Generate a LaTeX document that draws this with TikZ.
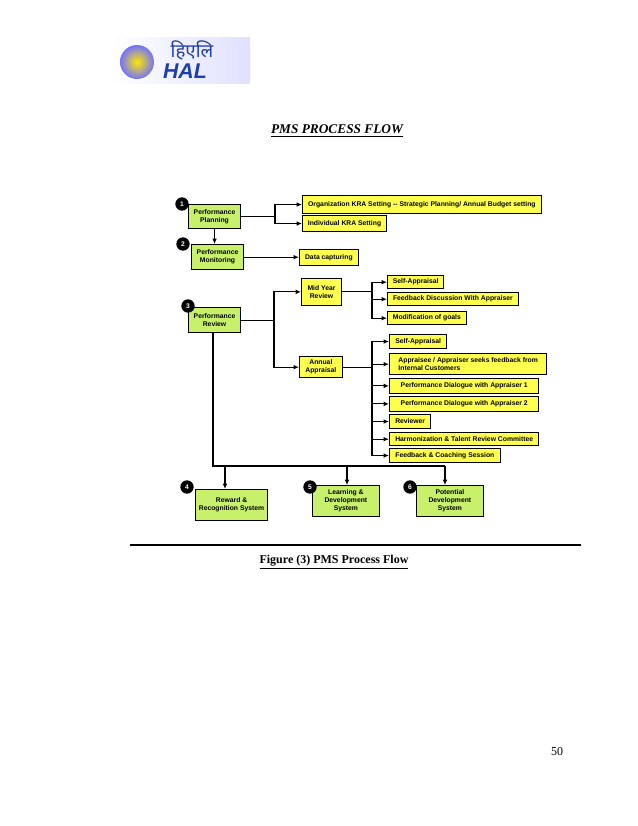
\documentclass[tikz,border=0pt]{standalone}
\usepackage{fontspec}
\setmainfont{Liberation Serif}
\newfontfamily\arl{Liberation Sans}
\newfontfamily\deva[Script=Devanagari]{Noto Sans}
\usetikzlibrary{arrows.meta,calc}
\definecolor{byel}{HTML}{FFFF4D}
\definecolor{bgrn}{HTML}{C8F06A}
\definecolor{halblue}{HTML}{1F3FA8}
\begin{document}
\begin{tikzpicture}[x=0.75pt,y=-0.75pt,
  bx/.style={draw=black,line width=0.8pt,inner sep=1.5pt,anchor=north west,font=\arl\bfseries\fontsize{5.1}{6}\selectfont,align=center},
  ybox/.style={bx,fill=byel,align=left,inner xsep=4pt,minimum width=#1},
  gbox/.style={bx,fill=bgrn},
  num/.style={circle,fill=black,text=white,inner sep=0pt,minimum size=10pt,font=\arl\bfseries\fontsize{5}{6}\selectfont},
  ar/.style={-{Latex[length=4pt,width=3.5pt]},line width=0.8pt},
  ln/.style={line width=0.8pt}]
\useasboundingbox (0,0) rectangle (638,826);
% logo
\shade[left color=white,right color=blue!12] (112,37) rectangle (250,83);
\shade[inner color=yellow!80!orange,middle color=orange,outer color=blue!55] (137,62) circle (17);
\node[font=\deva\bfseries\itshape\fontsize{14}{15}\selectfont,text=halblue] (hindi) at (192,50) {हिएलि};
\node[font=\arl\bfseries\itshape\fontsize{16}{17}\selectfont,text=halblue] (hal) at (185,71) {HAL};
% title
\node[font=\bfseries\itshape\fontsize{10}{12}\selectfont] (title) at (337,131) {\underline{PMS PROCESS FLOW}};
% green boxes
\node[gbox,minimum width=39pt,minimum height=18pt] (pp) at (188,204) {Performance\\Planning};
\node[gbox,minimum width=39pt,minimum height=19pt] (pm) at (191,244) {Performance\\Monitoring};
\node[gbox,minimum width=39pt,minimum height=19pt] (pr) at (188,307) {Performance\\Review};
\node[gbox,minimum width=54pt,minimum height=23pt] (rw) at (195,489) {Reward \&\\Recognition System};
\node[gbox,minimum width=50pt,minimum height=23pt] (ld) at (312,485) {Learning \&\\Development\\System};
\node[gbox,minimum width=50pt,minimum height=23pt] (pd) at (416,485) {Potential\\Development\\System};
\node[num] (n1) at (182,204) {1};
\node[num] (n2) at (183,244) {2};
\node[num] (n3) at (188,306) {3};
\node[num] (n4) at (187,487) {4};
\node[num] (n5) at (310,487) {5};
\node[num] (n6) at (410,487) {6};
% yellow boxes
\node[ybox=179pt,minimum height=13.5pt] (org) at (302,195) {Organization KRA Setting -- Strategic Planning/ Annual Budget setting};
\node[ybox=63pt,minimum height=12pt] (ind) at (302,215) {Individual KRA Setting};
\node[ybox=44pt,minimum height=12pt] (dc) at (299,249) {Data capturing};
\node[gbox,fill=byel,minimum width=30pt,minimum height=20pt] (my) at (301,278) {Mid Year\\Review};
\node[ybox=39pt,minimum height=10pt] (sa1) at (387,275) {Self-Appraisal};
\node[ybox=98pt,minimum height=10pt] (fd) at (387,292) {Feedback Discussion With Appraiser};
\node[ybox=55pt,minimum height=10pt] (mg) at (387,311) {Modification of goals};
\node[gbox,fill=byel,minimum width=32pt,minimum height=16pt] (aa) at (299,356) {Annual\\Appraisal};
\node[ybox=43pt,minimum height=10.5pt] (sa2) at (389,334) {Self-Appraisal};
\node[ybox=118pt,minimum height=16pt] (ap) at (389,353) {Appraisee / Appraiser seeks feedback from\\Internal Customers};
\node[ybox=112pt,minimum height=11pt] (pd1) at (389,378) {Performance Dialogue with Appraiser 1};
\node[ybox=112pt,minimum height=11pt] (pd2) at (389,396) {Performance Dialogue with Appraiser 2};
\node[ybox=31pt,minimum height=10.5pt] (rv) at (389,414) {Reviewer};
\node[ybox=112pt,minimum height=10pt] (hz) at (389,432) {Harmonization \& Talent Review Committee};
\node[ybox=83pt,minimum height=10.5pt] (fc) at (389,448) {Feedback \& Coaching Session};
% connectors
\coordinate (b1) at (275,0);
\draw[ln] (pp.east) -- (pp.east -| b1);
\draw[ar] (pp.east -| b1) |- (org.west);
\draw[ar] (pp.east -| b1) |- (ind.west);
\draw[ar] (pp.south) -- (pm.north -| pp.south);
\draw[ar] (pm.east) -- (pm.east -| dc.west);
\coordinate (b3) at (274,0);
\draw[ln] (pr.east) -- (pr.east -| b3);
\draw[ar] (pr.east -| b3) |- (my.west);
\draw[ar] (pr.east -| b3) |- (aa.west);
\coordinate (b4) at (372,0);
\draw[ln] (my.east) -- (my.east -| b4);
\foreach \t in {sa1,fd,mg} \draw[ar] (my.east -| b4) |- (\t.west);
\draw[ln] (aa.east) -- (aa.east -| b4);
\foreach \t in {sa2,ap,pd1,pd2,rv,hz,fc} \draw[ar] (aa.east -| b4) |- (\t.west);
\coordinate (b6) at (213,466);
\draw[ln] (pr.south -| b6) -- (b6) -- (445,466);
\draw[ar] (225,466) -- (rw.north -| 225,0);
\draw[ar] (347,466) -- (ld.north -| 347,0);
\draw[ar] (445,466) -- (pd.north -| 445,0);
% rule and caption
\draw[line width=1pt] (130,545) coordinate (r1) -- (581,545) coordinate (r2);
\node[font=\bfseries\fontsize{9}{11}\selectfont] (cap) at (334,562) {\underline{Figure (3) PMS Process Flow}};
\node[font=\fontsize{9}{11}\selectfont] (pg) at (557,752) {50};
\end{tikzpicture}
\end{document}
